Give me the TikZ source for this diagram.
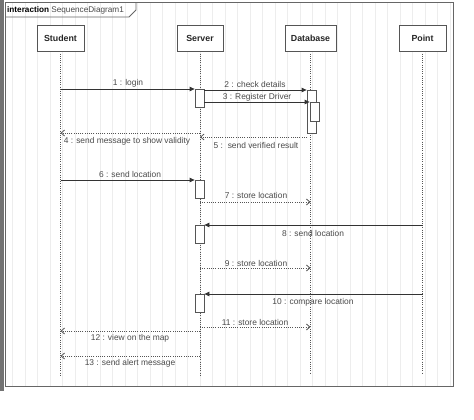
\documentclass[tikz,border=0pt]{standalone}
\usepackage{fontspec}
\setmainfont{Liberation Sans}
\usetikzlibrary{arrows.meta}
\definecolor{linegray}{HTML}{333333}
\definecolor{dotgray}{HTML}{555555}
\definecolor{textgray}{HTML}{4A4A4A}
\definecolor{boxgray}{HTML}{555555}
\tikzset{
  headbox/.style={draw=boxgray, line width=0.9pt, fill=white, minimum height=26pt, inner sep=0pt, font=\fontsize{8.8}{10}\selectfont\bfseries, text=black!85},
  actbox/.style={draw=boxgray, line width=0.8pt, fill=white, minimum width=9pt, inner sep=0pt, anchor=north},
  lifeline/.style={draw=dotgray, line width=0.9pt, dash pattern=on 1pt off 1.2pt},
  syncmsg/.style={draw=linegray, line width=0.8pt, -{Triangle[length=5pt,width=4.5pt]}},
  retmsg/.style={draw=dotgray, line width=0.8pt, dash pattern=on 1pt off 1.2pt, -{Straight Barb[length=3.5pt,width=6pt]}},
  msglabel/.style={font=\fontsize{8.4}{9}\selectfont, text=textgray, inner sep=0pt},
}
\begin{document}
\begin{tikzpicture}[x=1pt,y=-1pt]
\useasboundingbox (0,0) rectangle (474,420);
\fill[white] (0,0) rectangle (474,420);
% faint grid
\begin{scope}
\clip (6,4) rectangle (453,386);
\draw[black!7, line width=0.4pt, step=12.5] (0,0) grid (475,400);
\end{scope}
% left gray bar
\fill[black!55] (0,0) rectangle (4,391);
% frame
\draw[black!60, line width=1pt] (5.5,3) rectangle (453,386.5);
\draw[black!60, line width=0.8pt] (5.5,17) -- (129,17) -- (136,10) -- (136,3);
\node[anchor=west, inner sep=0pt, font=\fontsize{8.2}{9}\selectfont] (tag) at (7,10)
  {\textbf{interaction} \textcolor{textgray}{SequenceDiagram1}};
% lifeline heads
\node[headbox, minimum width=47pt] (Student) at (60.5,38) {Student};
\node[headbox, minimum width=46pt] (Server) at (200,38) {Server};
\node[headbox, minimum width=51pt] (Database) at (310.5,38) {Database};
\node[headbox, minimum width=47pt] (Point) at (422.5,38) {Point};
% lifeline ends
\coordinate (StudentEnd) at (60.5,375);
\coordinate (ServerEnd) at (200,375);
\coordinate (DatabaseEnd) at (310.5,373);
\coordinate (PointEnd) at (422.5,373);
\draw[lifeline] (Student.south) -- (StudentEnd);
\draw[lifeline] (Server.south) -- (ServerEnd);
\draw[lifeline] (Database.south) -- (DatabaseEnd);
\draw[lifeline] (Point.south) -- (PointEnd);
% activations
\node[actbox, minimum height=18pt] (act1) at (199.5,89) {};
\node[actbox, minimum height=43pt] (actDBa) at (311.5,90) {};
\node[actbox, minimum height=19pt] (actDBb) at (314.5,102) {};
\node[actbox, minimum height=18pt] (act6) at (199.5,180) {};
\node[actbox, minimum height=18pt] (act8) at (199.5,225) {};
\node[actbox, minimum height=18pt] (act10) at (199.5,294) {};
% message end coordinates
\coordinate (m4s) at (200,133);
\coordinate (m5s) at (307,137);
\coordinate (m7y) at (0,202);
\coordinate (m9y) at (0,268);
\coordinate (m11y) at (0,327);
\coordinate (m12y) at (0,331);
\coordinate (m13y) at (0,356);
\coordinate (m8y) at (0,225);
\coordinate (m10y) at (0,294);
% 1
\draw[syncmsg] (Student |- act1.north west) -- (act1.north west);
\node[msglabel] (l1) at (128,83.5) {1 : login};
% 2
\draw[syncmsg] (act1.east |- actDBa.north) -- (actDBa.north west);
\node[msglabel] (l2) at (255,84.5) {2 : check details};
% 3
\draw[syncmsg] (act1.east |- actDBb.north) -- (actDBb.north west);
\node[msglabel] (l3) at (257,97) {3 : Register Driver};
% 4
\draw[retmsg] (m4s) -- (Student |- m4s);
\node[msglabel] (l4) at (127,141.5) {4 : send message to show validity};
% 5
\draw[retmsg] (m5s) -- (Server |- m5s);
\node[msglabel] (l5) at (256,145) {5 :\ \ send verified result};
% 6
\draw[syncmsg] (Student |- act6.north west) -- (act6.north west);
\node[msglabel] (l6) at (130,174.5) {6 : send location};
% 7
\draw[retmsg] (Server |- m7y) -- (Database |- m7y);
\node[msglabel] (l7) at (256,195.5) {7 : store location};
% 8
\draw[syncmsg] (Point |- m8y) -- (act8.north east);
\node[msglabel] (l8) at (313,233) {8 : send location};
% 9
\draw[retmsg] (Server |- m9y) -- (Database |- m9y);
\node[msglabel] (l9) at (256,263) {9 : store location};
% 10
\draw[syncmsg] (Point |- m10y) -- (act10.north east);
\node[msglabel] (l10) at (313,302) {10 : compare location};
% 11
\draw[retmsg] (Server |- m11y) -- (Database |- m11y);
\node[msglabel] (l11) at (255,322) {11 : store location};
% 12
\draw[retmsg] (Server |- m12y) -- (Student |- m12y);
\node[msglabel] (l12) at (130,338.5) {12 : view on the map};
% 13
\draw[retmsg] (Server |- m13y) -- (Student |- m13y);
\node[msglabel] (l13) at (130,363.5) {13 : send alert message};
\end{tikzpicture}
\end{document}
